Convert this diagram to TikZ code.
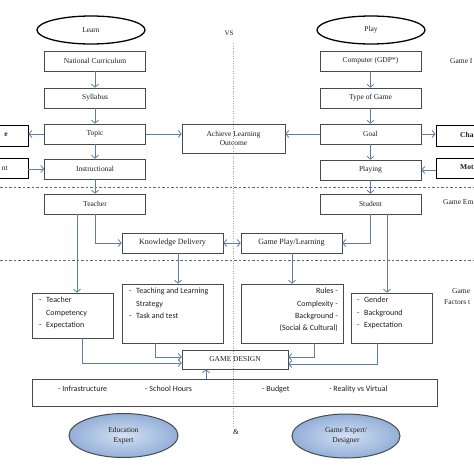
\documentclass[tikz,border=0pt]{standalone}
\usepackage{fontspec}
\setmainfont{Liberation Serif}
\newfontfamily\listfont{Carlito}
\usetikzlibrary{arrows.meta}
\usetikzlibrary{shapes.geometric}
\definecolor{arrowblue}{HTML}{5B7DAA}
\definecolor{boxline}{HTML}{4A4A4A}
\definecolor{inktext}{HTML}{1E1E1E}
\definecolor{expertin}{HTML}{D3E0F2}
\definecolor{expertout}{HTML}{93AFD8}
\tikzset{
  box/.style={draw=boxline, line width=0.6pt, minimum width=101pt, minimum height=20pt,
    inner sep=1pt, text=inktext, font=\fontsize{7.5}{9}\selectfont},
  heavybox/.style={box, draw=black, line width=0.9pt},
  listbox/.style={draw=boxline, line width=0.6pt},
  listtext/.style={inner sep=0pt, align=left, text=inktext, font=\listfont\fontsize{8}{12.4}\selectfont},
  side/.style={inner sep=0pt, text=inktext, font=\fontsize{7.5}{9}\selectfont},
  arr/.style={draw=arrowblue, line width=0.8pt, ->},
  separator/.style={draw=gray!80!black, line width=0.6pt, dash pattern=on 2.5pt off 2pt},
  splitline/.style={draw=gray!70, line width=0.6pt, dash pattern=on 1pt off 1.5pt},
  topic/.style={ellipse, draw=black, line width=1.3pt, minimum width=108pt, minimum height=28pt,
    text=inktext, font=\fontsize{7.5}{9}\selectfont},
  expert/.style={ellipse, draw=boxline, line width=1pt, inner color=expertin, outer color=expertout,
    minimum width=109pt, minimum height=44pt, align=center, text=inktext, font=\fontsize{7.5}{10}\selectfont}
}
\newcommand{\itm}[1]{\makebox[7pt][l]{-}#1}
\newcommand{\cnt}[1]{\hspace*{7pt}#1}

\begin{document}
\begin{tikzpicture}[x=1pt, y=-1pt, >={Straight Barb[length=3pt,width=7pt]}]
    \useasboundingbox (0,0) rectangle (474,474);
    \clip (0,0) rectangle (474,474);

    % separators between the stages
    \draw[splitline] (233,43) -- (233,427);
    \draw[separator] (0,187) -- (474,187);
    \draw[separator] (0,260) -- (474,260);

    % learn side
    \node[topic] at (91,30) (learn) {Learn};
    \node[box] at (95,61) (natcur) {National Curriculum};
    \node[box] at (95,98) (syllabus) {Syllabus};
    \node[box] at (95,134) (topic) {Topic};
    \node[box] at (95,169) (instr) {Instructional};
    \node[box] at (95,204) (teacher) {Teacher};
    \node[heavybox, minimum width=76pt, minimum height=21pt] at (-10,135.5) (lefttop) {};
    \node[side, anchor=east, font=\bfseries\fontsize{7.5}{9}\selectfont] at (8,135) (lefttoptxt) {e};
    \node[heavybox, minimum width=76pt] at (-10,168) (leftlow) {};
    \node[side, anchor=east] at (8,168) (leftlowtxt) {nt};

    % play side
    \node[side, font=\fontsize{7}{8}\selectfont] at (229,33) (vs) {VS};
    \node[topic] at (371,30) (play) {Play};
    \node[box] at (370.5,61) (computer) {Computer (GDP*)};
    \node[box] at (370.5,98) (gametype) {Type of Game};
    \node[box] at (370.5,134) (goal) {Goal};
    \node[box] at (370.5,170) (playing) {Playing};
    \node[box] at (370.5,204) (student) {Student};
    \node[heavybox, minimum width=101pt, minimum height=21pt] at (486.5,135.5) (righttop) {};
    \node[side, anchor=west, font=\bfseries\fontsize{7.5}{9}\selectfont] at (460,135) (righttoptxt) {Cha};
    \node[heavybox, minimum width=101pt] at (486.5,168) (rightlow) {};
    \node[side, anchor=west, font=\bfseries\fontsize{7.5}{9}\selectfont] at (460,167.5) (rightlowtxt) {Mot};

    % stage names at the right margin
    \node[side, anchor=west] at (450,61) (stageone) {Game I};
    \node[side, anchor=west] at (443,202) (stagetwo) {Game Em};
    \node[side, anchor=west] at (452,291) (stagethree) {Game};
    \node[side, anchor=west] at (444,302) (stagefour) {Factors t};

    \node[box, minimum width=103pt, minimum height=29pt, align=center] at (233.5,138.5) (achieve) {Achieve Learning\\Outcome};
    \node[box, font=\fontsize{8}{9}\selectfont] at (172.5,243) (kdelivery) {Knowledge Delivery};
    \node[box, font=\fontsize{8}{9}\selectfont] at (291.5,243) (gameplay) {Game Play/Learning};

    % factor boxes
    \node[listbox, minimum width=81pt, minimum height=45pt] at (72.5,315.5) (compbox) {};
    \node[listtext, anchor=north west] at (39,297) (comptxt) {\itm{Teacher}\\\cnt{Competency}\\\itm{Expectation}};
    \node[listbox, minimum width=101pt, minimum height=59pt] at (172.5,313.5) (tlbox) {};
    \node[listtext, anchor=north west] at (129,288) (tltxt) {\itm{Teaching and Learning}\\\cnt{Strategy}\\\itm{Task and test}};
    \node[listbox, minimum width=102pt, minimum height=59pt] at (292,313.5) (rulebox) {};
    \node[listtext, anchor=north east, align=right] at (338,288) (ruletxt) {Rules -\\Complexity -\\Background -\\(Social \& Cultural)};
    \node[listbox, minimum width=81pt, minimum height=50pt] at (391.5,318) (genderbox) {};
    \node[listtext, anchor=north west] at (357,297) (gendertxt) {\itm{Gender}\\\itm{Background}\\\itm{Expectation}};

    \node[box, minimum width=106pt, minimum height=19pt] at (235,359.5) (design) {GAME DESIGN};
    \node[listbox, minimum width=405pt, minimum height=27pt] at (234.5,392.5) (limits) {};
    \node[listtext, anchor=west] at (58,389) (infra) {- Infrastructure};
    \node[listtext, anchor=west] at (145,389) (hours) {- School Hours};
    \node[listtext, anchor=west] at (262,389) (budget) {- Budget};
    \node[listtext, anchor=west] at (329,389) (reality) {- Reality vs Virtual};

    \node[expert] at (123.5,435.5) (eduexp) {Education\\Expert};
    \node[side] at (236,432) (amp) {\&};
    \node[expert, minimum width=108pt] at (346,436) (gameexp) {Game Expert/\\Designer};

    % flow
    \draw[arr] (natcur) -- (syllabus);
    \draw[arr] (syllabus) -- (topic);
    \draw[arr] (topic) -- (instr);
    \draw[arr] (instr) -- (teacher);
    \draw[arr] (computer) -- (gametype);
    \draw[arr] (gametype) -- (goal);
    \draw[arr] (goal) -- (playing);
    \draw[arr] (playing) -- (student);

    \draw[arr] (topic.west) -- (topic.west -| lefttop.east);
    \draw[arr] (instr.west -| leftlow.east) -- (instr.west);
    \draw[arr] (topic.east) -- (topic.east -| achieve.west);
    \draw[arr] (goal.west) -- (goal.west -| achieve.east);
    \draw[arr] (goal.east) -- (goal.east -| righttop.west);
    \draw[arr] (playing.east -| rightlow.west) -- (playing.east);

    \draw[arr] (teacher) |- (kdelivery);
    \draw[arr] ([xshift=-18pt]teacher.south) -- ([xshift=-18pt]teacher.south |- compbox.north);
    \draw[arr] (student) |- (gameplay);
    \draw[arr] ([xshift=16.5pt]student.south) -- ([xshift=16.5pt]student.south |- genderbox.north);
    \draw[arr, <->] (kdelivery) -- (gameplay);
    \draw[arr] ([xshift=5.5pt]kdelivery.south) -- ([xshift=5.5pt]kdelivery.south |- tlbox.north);
    \draw[arr] (gameplay.south -| rulebox.north) -- (rulebox.north);

    \draw[arr] ([xshift=-17.5pt]tlbox.south) |- ([yshift=2.5pt]design.west);
    \draw[arr] ([xshift=9.5pt]compbox.south) |- ([yshift=-3.5pt]design.west);
    \draw[arr] ([xshift=22pt]rulebox.south) |- ([yshift=2.5pt]design.east);
    \draw[arr] ([xshift=-14.5pt]genderbox.south) |- ([yshift=-4.5pt]design.east);
    \draw[arr] ([xshift=-28.5pt]limits.north) -- ([xshift=-28.5pt]limits.north |- design.south);
\end{tikzpicture}
\end{document}
